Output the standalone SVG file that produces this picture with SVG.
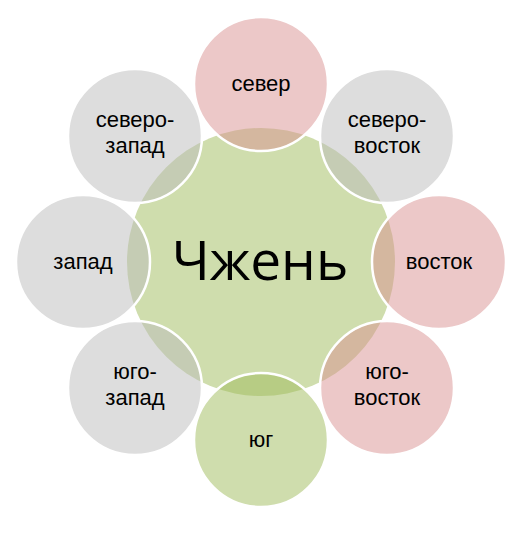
<svg xmlns="http://www.w3.org/2000/svg" width="523" height="533" viewBox="0 0 523 533">
<style>
.o{stroke:#fff;stroke-width:2.5}
.pink{fill:rgb(217,145,145);fill-opacity:0.5}
.grey{fill:rgb(187,187,187);fill-opacity:0.5}
.green{fill:rgb(159,187,91);fill-opacity:0.5}
text{font-family:"Open Sans","Liberation Sans",sans-serif;fill:#000;text-anchor:middle}
.s{font-family:"Liberation Sans",Arial,sans-serif;font-size:22px}
.big{font-size:55px}
</style>
<rect width="523" height="533" fill="#fff"/>
<g id="center"><circle cx="261" cy="262" r="134" fill="#CFDDAD"/><text class="big" x="260" y="280">Чжень</text></g>
<g id="north"><circle class="o pink" cx="261" cy="84" r="67"/><text class="s" x="261" y="91">север</text></g>
<g id="northeast"><circle class="o grey" cx="387" cy="136" r="67"/><text class="s" x="387" y="127">северо-</text><text class="s" x="387" y="153">восток</text></g>
<g id="east"><circle class="o pink" cx="439" cy="262" r="67"/><text class="s" x="439" y="269">восток</text></g>
<g id="southeast"><circle class="o pink" cx="387" cy="388" r="67"/><text class="s" x="387" y="379">юго-</text><text class="s" x="387" y="405">восток</text></g>
<g id="south"><circle class="o green" cx="261" cy="440" r="67"/><text class="s" x="261" y="447">юг</text></g>
<g id="southwest"><circle class="o grey" cx="135" cy="388" r="67"/><text class="s" x="135" y="379">юго-</text><text class="s" x="135" y="405">запад</text></g>
<g id="west"><circle class="o grey" cx="83" cy="262" r="67"/><text class="s" x="83" y="269">запад</text></g>
<g id="northwest"><circle class="o grey" cx="135" cy="136" r="67"/><text class="s" x="135" y="127">северо-</text><text class="s" x="135" y="153">запад</text></g>
</svg>
